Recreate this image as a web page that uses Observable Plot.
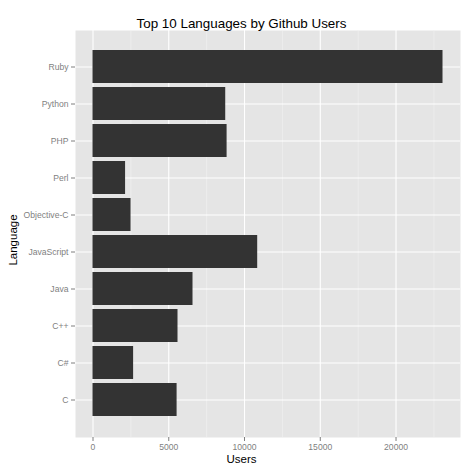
<!DOCTYPE html>
<html><head><meta charset="utf-8">
<script src="https://cdn.jsdelivr.net/npm/d3@7"></script>
<script src="https://cdn.jsdelivr.net/npm/@observablehq/plot@0.6"></script>
<style>body{margin:0;background:#fff} svg{display:block}</style>
</head><body><div id="chart"></div>
<script>
const languages = ["Ruby","Python","PHP","Perl","Objective-C","JavaScript","Java","C++","C#","C"];
const users = [23100, 8760, 8850, 2150, 2510, 10870, 6600, 5610, 2680, 5550];
const xTicks = [0, 5000, 10000, 15000, 20000];
const xMinor = [2500, 7500, 12500, 17500, 22500];
const title = "Top 10 Languages by Github Users";
const xTitle = "Users";
const yTitle = "Language";

const data = languages.map((language, i) => ({language, users: users[i]}));
const xMax = d3.max(users);

const chart = Plot.plot({
  width: 474, height: 473,
  marginLeft: 75, marginRight: 14, marginTop: 30, marginBottom: 36,
  style: {fontFamily: "'Liberation Sans', Arial, sans-serif", background: "white"},
  x: {domain: [-0.05 * xMax, 1.05 * xMax]},
  y: {domain: languages, paddingInner: 0.1, paddingOuter: 0.51},
  marks: [
    Plot.frame({fill: "#E5E5E5", stroke: null}),
    Plot.ruleX(xMinor, {stroke: "#F2F2F2", strokeWidth: 0.6}),
    Plot.ruleX(xTicks, {stroke: "white", strokeWidth: 1.1}),
    Plot.gridY({stroke: "white", strokeOpacity: 1, strokeWidth: 1.1}),
    Plot.barX(data, {x: "users", y: "language", fill: "#333333"}),
    Plot.axisX({ticks: xTicks, tickFormat: d => String(d), tickSize: 4, tickPadding: 2, color: "#7F7F7F", fontSize: 8.6, label: null}),
    Plot.axisY({tickSize: 4, tickPadding: 3, color: "#7F7F7F", fontSize: 8.6, label: null}),
    Plot.text([title], {frameAnchor: "top", dx: -26.5, dy: -3, lineAnchor: "bottom", fontSize: 13.4, fill: "black"}),
    Plot.text([xTitle], {frameAnchor: "bottom", dx: -26.5, dy: 25, lineAnchor: "bottom", fontSize: 11.5, fill: "black"}),
    Plot.text([yTitle], {frameAnchor: "left", dx: -62, dy: 6, rotate: -90, textAnchor: "middle", lineAnchor: "middle", fontSize: 11.5, fill: "black"})
  ]
});
document.getElementById("chart").appendChild(chart);
</script>
</body></html>
